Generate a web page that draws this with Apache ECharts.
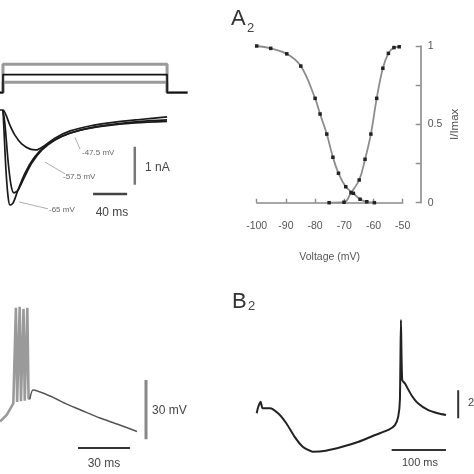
<!DOCTYPE html>
<html><head><meta charset="utf-8">
<script src="https://cdn.jsdelivr.net/npm/echarts@6/dist/echarts.min.js"></script>
<style>html,body{margin:0;padding:0;background:#fff}#c{width:474px;height:474px}</style>
</head><body><div id="c"></div>
<script>
// ---------- Panel A1: voltage protocol (mV) ----------
const protoLevels = [-47.5, -57.5, -65];
const protoHold = -75;
const protoOnOff = [0, 193];      // ms
const protoSpan = [-3.5, 217];    // ms
// ---------- Panel A1: current traces (nA) ----------
const tr47_t = [-3.5, 0, 3.5, 8, 14, 22, 32, 39, 48, 61, 79, 102, 132, 161, 193];
const tr47_i = [0, 0, -0.13, -0.39, -0.66, -0.89, -1.03, -1.05, -0.95, -0.74, -0.55, -0.42, -0.32, -0.25, -0.18];
const tr57_t = [0, 2.4, 5.9, 9.4, 12.9, 17.6, 24.7, 34.1, 45.9, 61.2, 78.8, 102.4, 131.8, 161.2, 192.9];
const tr57_i = [0, -0.39, -1.32, -1.97, -2.18, -2.11, -1.79, -1.39, -1.05, -0.79, -0.61, -0.47, -0.37, -0.30, -0.26];
const tr65_t = [0, 1.2, 3.5, 5.9, 8.2, 11.8, 17.6, 25.9, 36.5, 49.4, 67.1, 90.6, 120, 155.3, 192.9];
const tr65_i = [0, -0.53, -1.58, -2.26, -2.5, -2.45, -2.11, -1.66, -1.26, -0.95, -0.71, -0.53, -0.42, -0.34, -0.30];
const traceLabels = ['-47.5 mV', '-57.5 mV', '-65 mV'];
// leader lines [t0, i0, t1, i1]
const leader47 = [90.6, -1.03, 84.7, -0.72];
const leader57 = [73, -1.68, 49.4, -1.37];
const leader65 = [53, -2.6, 18.9, -2.42];
// scale bars A1
const barA1_time = [106, 146, -2.21];   // t0, t1, at current
const barA1_amp = [155, -0.97, -1.97];  // at time, i0, i1

// ---------- Panel A2: normalised activation / inactivation ----------
const inact_v = [-100, -95.2, -89.7, -84.9, -80.0, -78.3, -76.0, -73.9, -72.0, -69.5, -66.9, -64.6, -62.3, -59.7];
const inact_i = [1.0, 0.985, 0.95, 0.872, 0.666, 0.566, 0.438, 0.29, 0.188, 0.102, 0.06, 0.022, 0.006, 0.0];
const act_v = [-75.2, -70.1, -67.7, -64.9, -62.9, -60.9, -58.9, -56.8, -54.9, -53.0, -51.2];
const act_i = [0.0, 0.003, 0.064, 0.145, 0.277, 0.438, 0.666, 0.858, 0.953, 0.99, 0.995];
const voltTicks = [-100, -90, -80, -70, -60, -50];
const normTicks = [0, 0.5, 1];

// ---------- Panel B1 ----------
const b1spike_t = [0, 3.9, 7.7, 8.8, 9.2, 9.9, 10.8, 11.4, 12.1, 13.0, 13.6, 14.3, 15.2, 15.8, 16.5, 17.2];
const b1spike_v = [-59.8, -56.4, -50.5, -49.5, -2, -49.8, -49, -1.5, -49.5, -48.8, -2.5, -49.2, -48.5, -2, -48, -48.5];
const b1decay_t = [17.2, 19.1, 28.9, 38.6, 48, 57.8, 67.6, 79.2];
const b1decay_v = [-48.5, -43.8, -46.8, -50.9, -54.4, -58, -61, -64.8];
const barB1_time = [45.1, 75.1, -73.2];
const barB1_amp = [84.4, -38.7, -68.7];

// ---------- Panel B2 ----------
const b2_t = [0, 2.9, 7.3, 10.9, 24.2, 39.3, 54.5, 69.6, 84.7, 102.9, 127.3, 157.5, 187.8, 218.2, 242.4, 254.5, 260.5, 263.6, 265.5, 267.8, 272.7, 284.7, 296.9, 315.1, 333.3, 348.4];
const b2_v = [-60, -55.3, -51.7, -56.4, -56.4, -60, -67.1, -76.7, -83.9, -87.4, -86.7, -83.9, -80.3, -75.5, -71.9, -68.4, -62.4, -50.5, 6.6, -36.2, -38.6, -46.9, -52.9, -57.6, -60, -61.2];
const barB2_time = [248.4, 348.4, -86.2];
const barB2_amp = [370.9, -43.5, -63.5];

const zip = (a, b) => a.map((v, i) => [v, b[i]]);
const FONT = 'Liberation Sans, Arial, sans-serif';

const chart = echarts.init(document.getElementById('c'), null, {renderer: 'canvas'});

const hiddenAxis = (gi, min, max) => ({gridIndex: gi, type: 'value', min, max, show: false});

const protoSeries = protoLevels.map((L, k) => ({
  type: 'line', xAxisIndex: 0, yAxisIndex: 0, symbol: 'none', animation: false,
  data: [[protoSpan[0], protoHold], [protoOnOff[0], protoHold], [protoOnOff[0], L], [protoOnOff[1], L], [protoOnOff[1], protoHold], [protoSpan[1], protoHold]],
  lineStyle: {color: k === 1 ? '#111' : '#9a9a9a', width: k === 1 ? 1.6 : 3},
  z: k === 1 ? 3 : 2
}));

const traceSeries = [[tr47_t, tr47_i], [tr57_t, tr57_i], [tr65_t, tr65_i]].map((p, k) => ({
  type: 'line', xAxisIndex: 1, yAxisIndex: 1, symbol: 'none', smooth: 0.3, animation: false,
  data: zip(p[0], p[1]), lineStyle: {color: '#1a1a1a', width: 1.7}
}));

const leaderSeries = [leader47, leader57, leader65].map(l => ({
  type: 'line', xAxisIndex: 1, yAxisIndex: 1, symbol: 'none', animation: false,
  data: [[l[0], l[1]], [l[2], l[3]]], lineStyle: {color: '#999', width: 0.8}
}));

const bar = (xi, yi, pts, color, w) => ({
  type: 'line', xAxisIndex: xi, yAxisIndex: yi, symbol: 'none', animation: false,
  data: pts, lineStyle: {color, width: w}
});

const text = (t, x, y, size, color, align) => ({
  type: 'text', x, y, silent: true,
  style: {text: t, fill: color, fontSize: size, fontFamily: FONT, align: align || 'left', verticalAlign: 'middle'}
});

chart.setOption({
  animation: false,
  backgroundColor: '#fff',
  grid: [
    {left: 0, width: 187.5, top: 56.55, height: 41.2},     // A1 protocol
    {left: 0, width: 187.5, top: 91, height: 133},         // A1 currents
    {left: 256.7, width: 146, top: 46, height: 156.7},     // A2
    {left: 0, width: 173, top: 303.8, height: 157.6},      // B1
    {left: 256.7, width: 220, top: 301.3, height: 168}     // B2
  ],
  xAxis: [
    hiddenAxis(0, -3.5, 217),
    hiddenAxis(1, -3.5, 217),
    {gridIndex: 2, type: 'value', min: -100, max: -50, interval: 10, position: 'bottom', offset: 11,
     axisLine: {lineStyle: {color: '#8a8a8a', width: 1.6}},
     axisTick: {inside: true, length: 4, lineStyle: {color: '#8a8a8a', width: 1.4}},
     axisLabel: {color: '#555', fontSize: 10.5, fontFamily: FONT, margin: 7,
                 formatter: v => voltTicks.includes(v) ? String(v) : ''},
     splitLine: {show: false},
     name: 'Voltage (mV)', nameLocation: 'middle', nameGap: 38,
     nameTextStyle: {color: '#555', fontSize: 10.5, fontFamily: FONT}},
    hiddenAxis(3, 0, 100),
    hiddenAxis(4, 0, 400)
  ],
  yAxis: [
    hiddenAxis(0, -80, -40),
    hiddenAxis(1, -3, 0.5),
    {gridIndex: 2, type: 'value', min: 0, max: 1, interval: 0.25, position: 'right', offset: 18,
     axisLine: {show: true, lineStyle: {color: '#8a8a8a', width: 1.6}},
     axisTick: {inside: true, length: 5, lineStyle: {color: '#8a8a8a', width: 1.4}},
     axisLabel: {color: '#555', fontSize: 10.5, fontFamily: FONT, margin: 7,
                 formatter: v => normTicks.includes(v) ? String(v) : ''},
     splitLine: {show: false},
     name: 'I/Imax', nameLocation: 'middle', nameGap: 28, nameRotate: 90,
     nameTextStyle: {color: '#555', fontSize: 11.5, fontFamily: FONT}},
    hiddenAxis(3, -80, 0),
    hiddenAxis(4, -100, 20)
  ],
  series: [
    ...protoSeries,
    ...traceSeries,
    ...leaderSeries,
    bar(1, 1, [[barA1_time[0], barA1_time[2]], [barA1_time[1], barA1_time[2]]], '#444', 2.5),
    bar(1, 1, [[barA1_amp[0], barA1_amp[1]], [barA1_amp[0], barA1_amp[2]]], '#777', 2.5),
    {type: 'line', xAxisIndex: 2, yAxisIndex: 2, smooth: 0.4, symbol: 'rect', symbolSize: 3.5, showSymbol: true,
     data: zip(inact_v, inact_i), lineStyle: {color: '#8c8c8c', width: 1.8}, itemStyle: {color: '#222'}},
    {type: 'line', xAxisIndex: 2, yAxisIndex: 2, smooth: 0.4, symbol: 'rect', symbolSize: 3.5, showSymbol: true,
     data: zip(act_v, act_i), lineStyle: {color: '#8c8c8c', width: 1.8}, itemStyle: {color: '#222'}},
    {type: 'line', xAxisIndex: 3, yAxisIndex: 3, symbol: 'none', data: zip(b1spike_t, b1spike_v),
     lineStyle: {color: '#9a9a9a', width: 2.6}},
    {type: 'line', xAxisIndex: 3, yAxisIndex: 3, symbol: 'none', smooth: 0.2, data: zip(b1decay_t, b1decay_v),
     lineStyle: {color: '#555', width: 1.5}},
    bar(3, 3, [[barB1_time[0], barB1_time[2]], [barB1_time[1], barB1_time[2]]], '#333', 2),
    bar(3, 3, [[barB1_amp[0], barB1_amp[1]], [barB1_amp[0], barB1_amp[2]]], '#888', 3),
    {type: 'line', xAxisIndex: 4, yAxisIndex: 4, symbol: 'none', smooth: 0.2, data: zip(b2_t, b2_v),
     lineStyle: {color: '#222', width: 2}},
    bar(4, 4, [[barB2_time[0], barB2_time[2]], [barB2_time[1], barB2_time[2]]], '#333', 2),
    bar(4, 4, [[barB2_amp[0], barB2_amp[1]], [barB2_amp[0], barB2_amp[2]]], '#333', 2)
  ],
  graphic: [
    text('A', 231, 19, 22, '#333'),
    text('2', 247, 28, 13, '#444'),
    text('B', 232, 302, 22, '#333'),
    text('2', 248, 306, 13, '#444'),
    text('1 nA', 145, 168, 12, '#444'),
    text('40 ms', 112, 213, 12, '#444', 'center'),
    text(traceLabels[0], 82, 153, 8, '#666'),
    text(traceLabels[1], 63, 177, 8, '#666'),
    text(traceLabels[2], 49, 210, 8, '#666'),
    text('30 mV', 152, 411, 12, '#444'),
    text('30 ms', 104, 464, 12, '#444', 'center'),
    text('100 ms', 420, 463, 11, '#444', 'center'),
    text('20 mV', 468, 403, 11, '#444')
  ]
});
</script>
</body></html>
